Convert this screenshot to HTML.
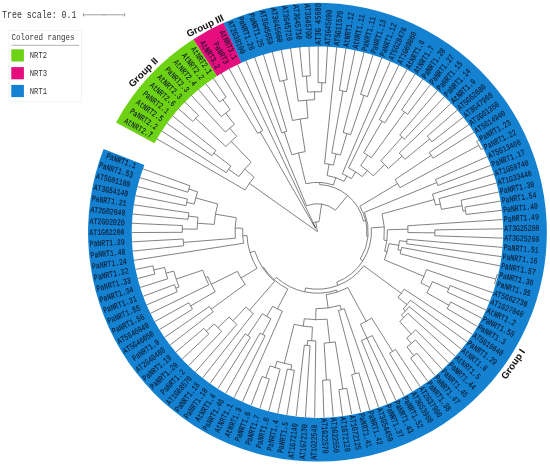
<!DOCTYPE html>
<html><head><meta charset="utf-8"><title>Phylogenetic tree</title>
<style>html,body{margin:0;padding:0;background:#fff;}body{width:550px;height:465px;overflow:hidden;}svg{display:block;}</style>
</head><body>
<svg width="550" height="465" viewBox="0 0 550 465">
<rect width="550" height="465" fill="#fff"/>
<path d="M116.04 122.39A229.4 229.4 0 0 1 193.42 39.22L217.05 75.98A185.7 185.7 0 0 0 154.41 143.31Z" fill="#6dd114"/>
<path d="M193.42 39.22A229.4 229.4 0 0 1 223.67 22.84L241.54 62.73A185.7 185.7 0 0 0 217.05 75.98Z" fill="#e60d7e"/>
<path d="M223.49 22.93A229.4 229.4 0 1 1 103.63 149.09L144.37 164.92A185.7 185.7 0 1 0 241.39 62.79Z" fill="#1481d1"/>
<path d="M317.45 231.70L249.36 183.37M245.16 189.91A83.50 83.50 0 0 1 254.14 177.26M245.16 189.91L156.68 138.76M254.14 177.26L244.66 169.10M238.86 176.57A96.00 96.00 0 0 1 251.17 162.25M238.86 176.57L228.46 169.27M226.18 172.66A108.70 108.70 0 0 1 230.87 165.98M226.18 172.66L161.53 130.83M230.87 165.98L213.90 153.10M211.97 155.72A130.00 130.00 0 0 1 215.90 150.53M211.97 155.72L166.77 123.16M215.90 150.53L172.39 115.76M251.17 162.25L231.15 141.27M225.93 146.55A125.00 125.00 0 0 1 236.67 136.30M225.93 146.55L195.55 118.29M192.75 121.37A166.50 166.50 0 0 1 198.43 115.27M192.75 121.37L178.37 108.65M198.43 115.27L184.70 101.85M236.67 136.30L229.76 128.14M225.31 132.08A135.70 135.70 0 0 1 234.38 124.40M225.31 132.08L191.36 95.37M234.38 124.40L225.62 113.09M221.24 116.62A150.00 150.00 0 0 1 230.14 109.73M221.24 116.62L198.34 89.23M230.14 109.73L222.86 99.57M219.59 101.97A162.50 162.50 0 0 1 226.20 97.24M219.59 101.97L205.61 83.45M226.20 97.24L213.17 78.04M317.45 231.70L315.80 221.94M312.85 222.94A9.90 9.90 0 0 1 318.93 221.91M312.85 222.94L315.59 228.16M315.46 228.23A4.00 4.00 0 0 1 315.72 228.09M315.46 228.23L260.19 131.97M257.71 133.43A115.00 115.00 0 0 1 262.70 130.57M257.71 133.43L220.98 73.02M262.70 130.57L229.04 68.39M315.72 228.09L237.32 64.18M318.93 221.91L321.62 204.01M306.65 205.87A28.00 28.00 0 0 1 335.39 210.20M306.65 205.87L245.80 60.38M335.39 210.20L347.69 195.46M319.61 184.55A47.20 47.20 0 0 1 363.45 221.12M319.61 184.55L319.71 182.45M305.89 183.77A49.30 49.30 0 0 1 333.34 185.03M305.89 183.77L298.46 152.96M291.89 154.84A81.00 81.00 0 0 1 305.17 151.64M291.89 154.84L284.32 132.07M281.83 132.93A105.00 105.00 0 0 1 286.82 131.27M281.83 132.93L254.46 57.01M286.82 131.27L263.28 54.08M305.17 151.64L300.17 119.02M292.46 120.47A114.00 114.00 0 0 1 307.96 118.10M292.46 120.47L283.48 80.47M279.70 81.37A155.00 155.00 0 0 1 287.27 79.67M279.70 81.37L272.23 51.59M287.27 79.67L281.29 49.55M307.96 118.10L306.46 100.16M298.26 101.10A132.00 132.00 0 0 1 314.70 99.73M298.26 101.10L290.45 47.97M314.70 99.73L314.54 91.73M307.54 92.05A140.00 140.00 0 0 1 321.54 91.76M307.54 92.05L306.41 76.09M302.52 76.42A156.00 156.00 0 0 1 310.30 75.86M302.52 76.42L299.67 46.85M310.30 75.86L308.94 46.20M321.54 91.76L321.80 82.76M318.08 82.70A149.00 149.00 0 0 1 325.53 82.92M318.08 82.70L318.23 46.00M325.53 82.92L327.52 46.27M333.34 185.03L335.83 177.74M327.09 175.52A57.00 57.00 0 0 1 344.10 181.32M327.09 175.52L329.04 164.19M324.58 163.57A68.50 68.50 0 0 1 333.44 165.09M324.58 163.57L336.78 47.01M333.44 165.09L336.13 153.91M331.72 152.98A80.00 80.00 0 0 1 340.47 155.08M331.72 152.98L342.96 90.99M339.43 90.40A143.00 143.00 0 0 1 346.47 91.68M339.43 90.40L345.99 48.21M346.47 91.68L355.13 49.86M340.47 155.08L346.95 133.54M343.24 132.50A102.50 102.50 0 0 1 350.61 134.71M343.24 132.50L364.18 51.98M350.61 134.71L364.04 95.44M360.61 94.32A144.00 144.00 0 0 1 367.43 96.65M360.61 94.32L373.11 54.54M367.43 96.65L381.90 57.54M344.10 181.32L346.91 176.01M342.24 173.78A63.00 63.00 0 0 1 351.38 178.62M342.24 173.78L390.54 60.99M351.38 178.62L355.69 171.88M348.62 167.91A71.00 71.00 0 0 1 362.25 176.62M348.62 167.91L398.98 64.86M362.25 176.62L367.30 170.41M360.72 165.60A79.00 79.00 0 0 1 373.35 175.88M360.72 165.60L367.57 155.15M363.67 152.73A91.50 91.50 0 0 1 371.33 157.75M363.67 152.73L382.11 121.23M379.33 119.65A128.00 128.00 0 0 1 384.86 122.89M379.33 119.65L407.23 69.14M384.86 122.89L415.24 73.84M371.33 157.75L404.61 112.08M401.59 109.94A148.00 148.00 0 0 1 407.57 114.30M401.59 109.94L423.02 78.93M407.57 114.30L430.53 84.40M373.35 175.88L384.67 164.57M380.79 160.89A95.00 95.00 0 0 1 388.34 168.46M380.79 160.89L402.12 137.04M399.72 134.95A127.00 127.00 0 0 1 404.46 139.19M399.72 134.95L437.75 90.24M404.46 139.19L444.68 96.43M388.34 168.46L402.14 156.14M399.25 153.02A113.50 113.50 0 0 1 404.92 159.37M399.25 153.02L451.28 102.96M404.92 159.37L429.58 138.98M427.23 136.20A145.50 145.50 0 0 1 431.87 141.81M427.23 136.20L457.56 109.82M431.87 141.81L463.48 116.98M363.45 221.12L365.59 220.63M359.80 206.27A49.40 49.40 0 0 1 366.66 236.07M359.80 206.27L397.61 183.56M395.10 179.61A93.50 93.50 0 0 1 399.91 187.63M395.10 179.61L431.22 155.38M429.28 152.56A137.00 137.00 0 0 1 433.10 158.25M429.28 152.56L469.03 124.43M433.10 158.25L474.21 132.14M399.91 187.63L478.85 145.45M476.64 141.44A183.00 183.00 0 0 1 480.96 149.52M476.64 141.44L478.99 140.11M480.96 149.52L483.37 148.30M366.66 236.07L368.05 236.20M364.42 212.35A50.80 50.80 0 0 1 360.27 259.03M364.42 212.35L436.73 182.57M435.46 179.60A129.00 129.00 0 0 1 437.92 185.57M435.46 179.60L487.33 156.71M437.92 185.57L490.87 165.30M360.27 259.03L362.97 260.75M371.31 227.87A54.00 54.00 0 0 1 336.67 282.16M371.31 227.87L384.28 226.95M382.05 213.91A67.00 67.00 0 0 1 383.91 240.18M382.05 213.91L434.11 199.57M432.47 194.14A121.00 121.00 0 0 1 435.49 205.08M432.47 194.14L493.98 174.06M435.49 205.08L440.36 203.98M439.03 198.63A126.00 126.00 0 0 1 441.46 209.39M439.03 198.63L496.64 182.96M441.46 209.39L462.13 205.67M461.05 200.26A147.00 147.00 0 0 1 463.00 211.11M461.05 200.26L498.85 191.98M463.00 211.11L465.58 210.75M465.01 207.05A149.60 149.60 0 0 1 466.05 214.46M465.01 207.05L500.61 201.10M466.05 214.46L501.91 210.30M383.91 240.18L386.89 240.56M387.42 229.75A70.00 70.00 0 0 1 384.69 251.16M387.42 229.75L407.91 229.17M407.76 225.78A90.50 90.50 0 0 1 407.95 232.57M407.76 225.78L502.75 219.56M407.95 232.57L434.84 232.83M434.84 229.89A117.40 117.40 0 0 1 434.78 235.77M434.84 229.89L503.13 228.84M434.78 235.77L503.04 238.13M384.69 251.16L387.09 251.85M388.95 243.68A72.50 72.50 0 0 1 384.30 259.76M388.95 243.68L398.82 245.33M399.45 240.73A82.50 82.50 0 0 1 397.92 249.89M399.45 240.73L406.91 241.55M407.13 239.31A90.00 90.00 0 0 1 406.63 243.79M407.13 239.31L502.48 247.41M406.63 243.79L501.47 256.64M397.92 249.89L400.94 250.57M401.59 247.42A85.60 85.60 0 0 1 400.18 253.69M401.59 247.42L499.99 265.81M400.18 253.69L495.85 279.12M496.99 274.65A184.60 184.60 0 0 1 494.61 283.57M496.99 274.65L498.05 274.90M494.61 283.57L495.67 283.88M384.30 259.76L423.95 276.40M426.53 269.66A115.50 115.50 0 0 1 420.95 282.97M426.53 269.66L492.84 292.73M420.95 282.97L429.82 287.37M432.46 281.68A125.40 125.40 0 0 1 426.89 292.92M432.46 281.68L448.79 288.77M450.17 285.47A143.20 143.20 0 0 1 447.32 292.04M450.17 285.47L489.56 301.43M447.32 292.04L485.86 309.95M426.89 292.92L448.97 305.27M450.77 301.96A150.70 150.70 0 0 1 447.09 308.54M450.77 301.96L481.74 318.27M447.09 308.54L477.20 326.38M336.67 282.16L337.92 285.43M363.75 265.79A57.50 57.50 0 0 1 305.56 287.96M363.75 265.79L401.20 293.37M404.15 289.13A104.00 104.00 0 0 1 398.03 297.45M404.15 289.13L472.26 334.25M398.03 297.45L406.94 304.72M410.43 300.22A115.50 115.50 0 0 1 403.24 309.03M410.43 300.22L466.94 341.87M403.24 309.03L405.39 310.98M409.13 306.62A118.40 118.40 0 0 1 401.45 315.14M409.13 306.62L461.24 349.21M401.45 315.14L403.86 317.54M407.79 313.39A121.80 121.80 0 0 1 399.74 321.50M407.79 313.39L455.19 356.25M399.74 321.50L411.23 334.03M415.61 329.83A138.80 138.80 0 0 1 406.66 338.04M415.61 329.83L448.78 362.99M406.66 338.04L411.28 343.55M415.41 339.95A146.00 146.00 0 0 1 407.02 347.00M415.41 339.95L442.05 369.39M407.02 347.00L413.77 355.68M416.84 353.23A157.00 157.00 0 0 1 410.64 358.05M416.84 353.23L435.01 375.45M410.64 358.05L427.67 381.15M305.56 287.96L304.74 291.87M336.70 290.11A61.50 61.50 0 0 1 276.22 277.33M336.70 290.11L337.36 292.10M347.82 287.58A63.60 63.60 0 0 1 326.26 294.69M347.82 287.58L366.16 321.32M371.67 318.10A102.00 102.00 0 0 1 360.46 324.19M371.67 318.10L392.56 351.39M395.53 349.47A141.30 141.30 0 0 1 389.54 353.23M395.53 349.47L420.06 386.48M389.54 353.23L412.19 391.42M360.46 324.19L366.96 338.15M372.22 335.54A117.40 117.40 0 0 1 361.57 340.49M372.22 335.54L404.08 395.95M366.96 338.15L395.76 400.08M361.57 340.49L387.24 403.79M326.26 294.69L328.12 307.96M340.04 305.31A77.00 77.00 0 0 1 315.93 308.69M340.04 305.31L341.36 309.61M344.26 308.66A81.50 81.50 0 0 1 338.42 310.46M344.26 308.66L378.54 407.06M338.42 310.46L355.27 373.75M358.81 372.76A147.00 147.00 0 0 1 351.70 374.65M358.81 372.76L369.70 409.90M351.70 374.65L360.72 412.29M315.93 308.69L315.71 319.68M327.12 319.17A88.00 88.00 0 0 1 304.34 318.72M327.12 319.17L329.71 342.62M335.24 341.87A111.60 111.60 0 0 1 324.14 343.10M335.24 341.87L342.86 389.06M346.79 388.38A159.40 159.40 0 0 1 338.92 389.65M346.79 388.38L351.63 414.23M338.92 389.65L342.46 415.71M324.14 343.10L326.36 380.03M330.07 379.76A148.60 148.60 0 0 1 322.65 380.21M330.07 379.76L333.22 416.73M322.65 380.21L323.95 417.29M304.34 318.72L303.22 326.13M312.43 327.07A95.50 95.50 0 0 1 294.15 324.31M312.43 327.07L311.71 340.75M315.81 340.89A109.20 109.20 0 0 1 307.63 340.46M315.81 340.89L314.66 417.38M307.63 340.46L307.18 345.44M310.02 345.66A114.20 114.20 0 0 1 304.33 345.14M310.02 345.66L305.37 417.01M304.33 345.14L296.12 416.17M294.15 324.31L284.34 363.30M291.80 364.95A135.70 135.70 0 0 1 276.99 361.23M291.80 364.95L290.87 369.77M294.34 370.39A140.60 140.60 0 0 1 287.43 369.06M294.34 370.39L286.92 414.87M287.43 369.06L277.80 413.12M276.99 361.23L275.02 367.53M280.15 369.02A142.30 142.30 0 0 1 269.96 365.84M280.15 369.02L268.77 410.91M269.96 365.84L265.72 377.81M269.39 379.06A155.00 155.00 0 0 1 262.08 376.47M269.39 379.06L259.87 408.25M262.08 376.47L251.11 405.15M276.22 277.33L274.14 279.63M287.74 289.06A64.60 64.60 0 0 1 263.38 267.05M287.74 289.06L277.44 308.95M282.35 311.30A87.00 87.00 0 0 1 272.69 306.30M282.35 311.30L242.52 401.61M272.69 306.30L266.67 316.33M270.96 318.77A98.70 98.70 0 0 1 262.50 313.69M270.96 318.77L262.58 334.47M265.17 335.81A116.50 116.50 0 0 1 260.03 333.06M265.17 335.81L234.11 397.65M260.03 333.06L225.92 393.27M262.50 313.69L247.86 335.53M250.47 337.24A125.00 125.00 0 0 1 245.28 333.76M250.47 337.24L217.95 388.49M245.28 333.76L210.23 383.32M263.38 267.05L262.54 267.60M274.57 281.34A65.60 65.60 0 0 1 254.77 251.07M274.57 281.34L249.47 310.40M253.23 313.50A104.00 104.00 0 0 1 245.85 307.13M253.23 313.50L202.78 377.77M245.85 307.13L232.91 320.76M236.89 324.38A122.80 122.80 0 0 1 229.09 316.98M236.89 324.38L195.62 371.85M229.09 316.98L217.94 327.74M221.61 331.41A138.30 138.30 0 0 1 214.40 323.94M221.61 331.41L188.76 365.58M214.40 323.94L206.28 331.21M208.81 333.96A149.20 149.20 0 0 1 203.83 328.40M208.81 333.96L182.23 358.98M203.83 328.40L176.03 352.05M254.77 251.07L250.00 252.54M257.07 268.29A70.60 70.60 0 0 1 246.96 235.55M257.07 268.29L240.99 278.03M245.21 284.37A89.40 89.40 0 0 1 237.33 271.36M245.21 284.37L211.20 309.18M213.17 311.81A131.50 131.50 0 0 1 209.29 306.50M213.17 311.81L170.19 344.83M209.29 306.50L164.71 337.32M237.33 271.36L211.25 284.27M215.21 291.60A118.50 118.50 0 0 1 207.81 276.67M215.21 291.60L190.62 306.01M192.51 309.16A147.00 147.00 0 0 1 188.80 302.81M192.51 309.16L159.62 329.55M188.80 302.81L154.93 321.53M207.81 276.67L205.50 277.62M208.76 284.87A121.00 121.00 0 0 1 202.73 270.17M208.76 284.87L150.64 313.29M202.73 270.17L176.18 279.07M179.07 286.95A149.00 149.00 0 0 1 173.74 271.05M179.07 286.95L175.82 288.24M177.28 291.77A152.50 152.50 0 0 1 174.45 284.68M177.28 291.77L146.76 304.85M174.45 284.68L143.32 296.22M173.74 271.05L166.02 273.16M167.69 278.82A157.00 157.00 0 0 1 164.57 267.45M167.69 278.82L140.31 287.43M164.57 267.45L153.86 269.96M154.87 274.04A168.00 168.00 0 0 1 152.96 265.85M154.87 274.04L137.74 278.50M152.96 265.85L135.63 269.45M246.96 235.55L242.76 235.78M243.54 243.22A74.80 74.80 0 0 1 242.73 228.30M243.54 243.22L133.97 260.31M242.73 228.30L235.14 227.95M235.31 238.25A82.40 82.40 0 0 1 236.25 217.71M235.31 238.25L183.38 242.40M183.69 245.75A134.50 134.50 0 0 1 183.15 239.04M183.69 245.75L132.77 251.10M183.15 239.04L132.03 241.83M236.25 217.71L215.45 214.13M214.21 224.41A103.50 103.50 0 0 1 217.72 204.03M214.21 224.41L197.45 223.23M197.18 229.24A120.30 120.30 0 0 1 198.02 217.24M197.18 229.24L182.28 228.93M182.25 232.32A135.20 135.20 0 0 1 182.39 225.55M182.25 232.32L131.75 232.55M182.39 225.55L131.94 223.26M198.02 217.24L188.39 216.07M188.04 219.30A130.00 130.00 0 0 1 188.82 212.85M188.04 219.30L132.60 213.99M188.82 212.85L133.71 204.77M217.72 204.03L195.75 197.93M194.21 204.06A126.30 126.30 0 0 1 197.59 191.89M194.21 204.06L186.70 202.38M186.00 205.66A134.00 134.00 0 0 1 187.47 199.12M186.00 205.66L135.29 195.61M187.47 199.12L137.32 186.54M197.59 191.89L188.86 188.99M187.83 192.22A135.50 135.50 0 0 1 189.97 185.78M187.83 192.22L139.81 177.59M189.97 185.78L142.74 168.77" fill="none" stroke="#585858" stroke-width="0.75"/>
<g font-family="'Liberation Mono', monospace" font-size="8.5" fill="#0b1626" stroke="#0b1626" stroke-width="0.08">
<text transform="translate(124.82 120.34) rotate(30.03)" y="2.4" textLength="31.2" lengthAdjust="spacingAndGlyphs">AtNRT2.7</text>
<text transform="translate(130.64 110.84) rotate(32.90)" y="2.4" textLength="31.2" lengthAdjust="spacingAndGlyphs">PaNRT2.2</text>
<text transform="translate(136.91 101.65) rotate(35.77)" y="2.4" textLength="31.2" lengthAdjust="spacingAndGlyphs">AtNRT2.5</text>
<text transform="translate(143.65 92.78) rotate(38.63)" y="2.4" textLength="31.2" lengthAdjust="spacingAndGlyphs">PaNRT2.1</text>
<text transform="translate(150.81 84.26) rotate(41.50)" y="2.4" textLength="31.2" lengthAdjust="spacingAndGlyphs">AtNRT2.6</text>
<text transform="translate(158.39 76.11) rotate(44.37)" y="2.4" textLength="31.2" lengthAdjust="spacingAndGlyphs">AtNRT2.3</text>
<text transform="translate(166.38 68.35) rotate(47.24)" y="2.4" textLength="31.2" lengthAdjust="spacingAndGlyphs">PaNRT2.3</text>
<text transform="translate(174.73 61.00) rotate(50.10)" y="2.4" textLength="31.2" lengthAdjust="spacingAndGlyphs">AtNRT2.4</text>
<text transform="translate(183.45 54.07) rotate(52.97)" y="2.4" textLength="31.2" lengthAdjust="spacingAndGlyphs">AtNRT2.2</text>
<text transform="translate(192.50 47.59) rotate(55.84)" y="2.4" textLength="31.2" lengthAdjust="spacingAndGlyphs">AtNRT2.1</text>
<text transform="translate(201.87 41.58) rotate(58.70)" y="2.4" textLength="31.2" lengthAdjust="spacingAndGlyphs">AtNRT3.2</text>
<text transform="translate(215.24 42.89) rotate(61.57)" y="2.4" textLength="23.4" lengthAdjust="spacingAndGlyphs">PaNRT3</text>
<text transform="translate(221.44 30.98) rotate(64.44)" y="2.4" textLength="31.2" lengthAdjust="spacingAndGlyphs">AtNRT3.1</text>
<text transform="translate(229.44 21.26) rotate(67.30)" y="2.4" textLength="35.1" lengthAdjust="spacingAndGlyphs">AT2G38100</text>
<text transform="translate(240.08 17.12) rotate(70.17)" y="2.4" textLength="35.1" lengthAdjust="spacingAndGlyphs">PaNRT1.26</text>
<text transform="translate(250.91 13.52) rotate(73.04)" y="2.4" textLength="35.1" lengthAdjust="spacingAndGlyphs">PaNRT1.25</text>
<text transform="translate(261.90 10.47) rotate(75.91)" y="2.4" textLength="35.1" lengthAdjust="spacingAndGlyphs">AT3G45650</text>
<text transform="translate(273.04 7.97) rotate(78.77)" y="2.4" textLength="35.1" lengthAdjust="spacingAndGlyphs">AT3G45660</text>
<text transform="translate(284.28 6.02) rotate(81.64)" y="2.4" textLength="35.1" lengthAdjust="spacingAndGlyphs">AT3G45720</text>
<text transform="translate(295.61 4.65) rotate(84.51)" y="2.4" textLength="35.1" lengthAdjust="spacingAndGlyphs">AT3G45710</text>
<text transform="translate(307.00 3.84) rotate(87.37)" y="2.4" textLength="35.1" lengthAdjust="spacingAndGlyphs">AT3G45700</text>
<text transform="translate(318.23 44.80) rotate(-89.76)" y="2.4" textLength="41.8" lengthAdjust="spacingAndGlyphs">AT3G 45680</text>
<text transform="translate(327.58 45.07) rotate(-86.89)" y="2.4" textLength="35.1" lengthAdjust="spacingAndGlyphs">AT3G45690</text>
<text transform="translate(336.90 45.82) rotate(-84.03)" y="2.4" textLength="35.1" lengthAdjust="spacingAndGlyphs">AT5G11570</text>
<text transform="translate(346.18 47.02) rotate(-81.16)" y="2.4" textLength="35.1" lengthAdjust="spacingAndGlyphs">AtNRT1.12</text>
<text transform="translate(355.38 48.69) rotate(-78.29)" y="2.4" textLength="35.1" lengthAdjust="spacingAndGlyphs">AtNRT1.11</text>
<text transform="translate(364.48 50.82) rotate(-75.42)" y="2.4" textLength="35.1" lengthAdjust="spacingAndGlyphs">PaNRT1.11</text>
<text transform="translate(373.47 53.39) rotate(-72.56)" y="2.4" textLength="35.1" lengthAdjust="spacingAndGlyphs">PaNRT1.13</text>
<text transform="translate(382.32 56.42) rotate(-69.69)" y="2.4" textLength="35.1" lengthAdjust="spacingAndGlyphs">PaNRT1.12</text>
<text transform="translate(391.01 59.88) rotate(-66.82)" y="2.4" textLength="35.1" lengthAdjust="spacingAndGlyphs">AT5G28470</text>
<text transform="translate(399.51 63.78) rotate(-63.96)" y="2.4" textLength="35.1" lengthAdjust="spacingAndGlyphs">AT1G69860</text>
<text transform="translate(407.81 68.09) rotate(-61.09)" y="2.4" textLength="31.2" lengthAdjust="spacingAndGlyphs">AtNRT1.6</text>
<text transform="translate(415.88 72.82) rotate(-58.22)" y="2.4" textLength="31.2" lengthAdjust="spacingAndGlyphs">AtNRT1.7</text>
<text transform="translate(423.70 77.94) rotate(-55.36)" y="2.4" textLength="35.1" lengthAdjust="spacingAndGlyphs">PaNRT1.28</text>
<text transform="translate(431.26 83.45) rotate(-52.49)" y="2.4" textLength="35.1" lengthAdjust="spacingAndGlyphs">PaNRT1.27</text>
<text transform="translate(438.53 89.32) rotate(-49.62)" y="2.4" textLength="35.1" lengthAdjust="spacingAndGlyphs">PaNRT1.15</text>
<text transform="translate(445.50 95.56) rotate(-46.75)" y="2.4" textLength="35.1" lengthAdjust="spacingAndGlyphs">PaNRT1.14</text>
<text transform="translate(452.15 102.13) rotate(-43.89)" y="2.4" textLength="31.2" lengthAdjust="spacingAndGlyphs">AtNRT1.9</text>
<text transform="translate(458.46 109.03) rotate(-41.02)" y="2.4" textLength="35.1" lengthAdjust="spacingAndGlyphs">AT5G62680</text>
<text transform="translate(464.42 116.24) rotate(-38.15)" y="2.4" textLength="35.1" lengthAdjust="spacingAndGlyphs">AT3G47960</text>
<text transform="translate(470.01 123.73) rotate(-35.29)" y="2.4" textLength="35.1" lengthAdjust="spacingAndGlyphs">AT3G01350</text>
<text transform="translate(475.22 131.50) rotate(-32.42)" y="2.4" textLength="35.1" lengthAdjust="spacingAndGlyphs">AT5G14940</text>
<text transform="translate(480.04 139.52) rotate(-29.55)" y="2.4" textLength="35.1" lengthAdjust="spacingAndGlyphs">PaNRT1.23</text>
<text transform="translate(484.44 147.76) rotate(-26.69)" y="2.4" textLength="35.1" lengthAdjust="spacingAndGlyphs">PaNRT1.22</text>
<text transform="translate(488.43 156.22) rotate(-23.82)" y="2.4" textLength="35.1" lengthAdjust="spacingAndGlyphs">AT5G13400</text>
<text transform="translate(491.99 164.87) rotate(-20.95)" y="2.4" textLength="35.1" lengthAdjust="spacingAndGlyphs">PaNRT1.17</text>
<text transform="translate(495.12 173.68) rotate(-18.08)" y="2.4" textLength="35.1" lengthAdjust="spacingAndGlyphs">AT1G59740</text>
<text transform="translate(497.80 182.64) rotate(-15.22)" y="2.4" textLength="35.1" lengthAdjust="spacingAndGlyphs">AT1G33440</text>
<text transform="translate(500.02 191.72) rotate(-12.35)" y="2.4" textLength="35.1" lengthAdjust="spacingAndGlyphs">PaNRT1.30</text>
<text transform="translate(501.80 200.91) rotate(-9.48)" y="2.4" textLength="35.1" lengthAdjust="spacingAndGlyphs">PaNRT1.54</text>
<text transform="translate(503.11 210.16) rotate(-6.62)" y="2.4" textLength="35.1" lengthAdjust="spacingAndGlyphs">PaNRT1.40</text>
<text transform="translate(503.95 219.48) rotate(-3.75)" y="2.4" textLength="35.1" lengthAdjust="spacingAndGlyphs">PaNRT1.49</text>
<text transform="translate(504.33 228.82) rotate(-0.88)" y="2.4" textLength="35.1" lengthAdjust="spacingAndGlyphs">AT3G25280</text>
<text transform="translate(504.24 238.17) rotate(1.98)" y="2.4" textLength="35.1" lengthAdjust="spacingAndGlyphs">AT3G25260</text>
<text transform="translate(503.68 247.51) rotate(4.85)" y="2.4" textLength="35.1" lengthAdjust="spacingAndGlyphs">PaNRT1.51</text>
<text transform="translate(502.66 256.80) rotate(7.72)" y="2.4" textLength="35.1" lengthAdjust="spacingAndGlyphs">PaNRT1.16</text>
<text transform="translate(501.17 266.03) rotate(10.59)" y="2.4" textLength="35.1" lengthAdjust="spacingAndGlyphs">PaNRT1.57</text>
<text transform="translate(499.22 275.18) rotate(13.45)" y="2.4" textLength="35.1" lengthAdjust="spacingAndGlyphs">PaNRT1.36</text>
<text transform="translate(496.82 284.22) rotate(16.32)" y="2.4" textLength="35.1" lengthAdjust="spacingAndGlyphs">PaNRT1.35</text>
<text transform="translate(493.97 293.12) rotate(19.19)" y="2.4" textLength="35.1" lengthAdjust="spacingAndGlyphs">AT5G62730</text>
<text transform="translate(490.68 301.88) rotate(22.05)" y="2.4" textLength="35.1" lengthAdjust="spacingAndGlyphs">AT1G27040</text>
<text transform="translate(486.95 310.45) rotate(24.92)" y="2.4" textLength="31.2" lengthAdjust="spacingAndGlyphs">AtNRT1.2</text>
<text transform="translate(482.80 318.83) rotate(27.79)" y="2.4" textLength="35.1" lengthAdjust="spacingAndGlyphs">PaNRT1.50</text>
<text transform="translate(478.23 326.99) rotate(30.65)" y="2.4" textLength="31.2" lengthAdjust="spacingAndGlyphs">PaNRT1.3</text>
<text transform="translate(473.26 334.92) rotate(33.52)" y="2.4" textLength="35.1" lengthAdjust="spacingAndGlyphs">AT5G19640</text>
<text transform="translate(467.91 342.58) rotate(36.39)" y="2.4" textLength="35.1" lengthAdjust="spacingAndGlyphs">PaNRT1.29</text>
<text transform="translate(462.17 349.97) rotate(39.26)" y="2.4" textLength="31.2" lengthAdjust="spacingAndGlyphs">AtNRT1.8</text>
<text transform="translate(456.08 357.06) rotate(42.12)" y="2.4" textLength="31.2" lengthAdjust="spacingAndGlyphs">AtNRT1.5</text>
<text transform="translate(449.63 363.83) rotate(44.99)" y="2.4" textLength="35.1" lengthAdjust="spacingAndGlyphs">PaNRT1.44</text>
<text transform="translate(442.86 370.28) rotate(47.86)" y="2.4" textLength="35.1" lengthAdjust="spacingAndGlyphs">PaNRT1.45</text>
<text transform="translate(435.77 376.38) rotate(50.72)" y="2.4" textLength="35.1" lengthAdjust="spacingAndGlyphs">PaNRT1.47</text>
<text transform="translate(428.38 382.12) rotate(53.59)" y="2.4" textLength="35.1" lengthAdjust="spacingAndGlyphs">PaNRT1.38</text>
<text transform="translate(420.72 387.48) rotate(56.46)" y="2.4" textLength="35.1" lengthAdjust="spacingAndGlyphs">AT2G37900</text>
<text transform="translate(412.80 392.45) rotate(59.32)" y="2.4" textLength="35.1" lengthAdjust="spacingAndGlyphs">AT3G53960</text>
<text transform="translate(404.64 397.02) rotate(62.19)" y="2.4" textLength="35.1" lengthAdjust="spacingAndGlyphs">PaNRT1.52</text>
<text transform="translate(396.26 401.17) rotate(65.06)" y="2.4" textLength="35.1" lengthAdjust="spacingAndGlyphs">PaNRT1.43</text>
<text transform="translate(387.69 404.90) rotate(67.93)" y="2.4" textLength="35.1" lengthAdjust="spacingAndGlyphs">PaNRT1.37</text>
<text transform="translate(378.94 408.20) rotate(70.79)" y="2.4" textLength="35.1" lengthAdjust="spacingAndGlyphs">AT3G54450</text>
<text transform="translate(370.03 411.05) rotate(73.66)" y="2.4" textLength="35.1" lengthAdjust="spacingAndGlyphs">PaNRT1.42</text>
<text transform="translate(361.00 413.46) rotate(76.53)" y="2.4" textLength="35.1" lengthAdjust="spacingAndGlyphs">PaNRT1.41</text>
<text transform="translate(351.85 415.41) rotate(79.39)" y="2.4" textLength="35.1" lengthAdjust="spacingAndGlyphs">AT1G72125</text>
<text transform="translate(342.62 416.90) rotate(82.26)" y="2.4" textLength="35.1" lengthAdjust="spacingAndGlyphs">AT1G72120</text>
<text transform="translate(333.33 417.92) rotate(85.13)" y="2.4" textLength="35.1" lengthAdjust="spacingAndGlyphs">AT1G22550</text>
<text transform="translate(323.99 418.49) rotate(87.99)" y="2.4" textLength="35.1" lengthAdjust="spacingAndGlyphs">AT1G22570</text>
<text transform="translate(314.02 459.77) rotate(270.86)" y="2.4" textLength="35.1" lengthAdjust="spacingAndGlyphs">AT1G22540</text>
<text transform="translate(302.62 459.32) rotate(273.73)" y="2.4" textLength="35.1" lengthAdjust="spacingAndGlyphs">AT1G72130</text>
<text transform="translate(291.25 458.29) rotate(276.60)" y="2.4" textLength="35.1" lengthAdjust="spacingAndGlyphs">AT1G72140</text>
<text transform="translate(280.59 452.85) rotate(279.46)" y="2.4" textLength="31.2" lengthAdjust="spacingAndGlyphs">PaNRT1.5</text>
<text transform="translate(269.58 450.73) rotate(282.33)" y="2.4" textLength="31.2" lengthAdjust="spacingAndGlyphs">PaNRT1.4</text>
<text transform="translate(258.68 448.06) rotate(285.20)" y="2.4" textLength="31.2" lengthAdjust="spacingAndGlyphs">PaNRT1.8</text>
<text transform="translate(247.93 444.85) rotate(288.06)" y="2.4" textLength="31.2" lengthAdjust="spacingAndGlyphs">PaNRT1.7</text>
<text transform="translate(237.36 441.11) rotate(290.93)" y="2.4" textLength="31.2" lengthAdjust="spacingAndGlyphs">PaNRT1.6</text>
<text transform="translate(226.98 436.84) rotate(293.80)" y="2.4" textLength="31.2" lengthAdjust="spacingAndGlyphs">AtNRT1.3</text>
<text transform="translate(216.84 432.06) rotate(296.66)" y="2.4" textLength="31.2" lengthAdjust="spacingAndGlyphs">AtNRT1.1</text>
<text transform="translate(205.02 430.17) rotate(299.53)" y="2.4" textLength="35.1" lengthAdjust="spacingAndGlyphs">PaNRT1.46</text>
<text transform="translate(197.32 421.00) rotate(302.40)" y="2.4" textLength="31.2" lengthAdjust="spacingAndGlyphs">AtNRT1.4</text>
<text transform="translate(185.75 417.94) rotate(305.27)" y="2.4" textLength="35.1" lengthAdjust="spacingAndGlyphs">PaNRT1.10</text>
<text transform="translate(176.60 411.12) rotate(308.13)" y="2.4" textLength="35.1" lengthAdjust="spacingAndGlyphs">PaNRT1.18</text>
<text transform="translate(167.80 403.85) rotate(311.00)" y="2.4" textLength="35.1" lengthAdjust="spacingAndGlyphs">AT1G68570</text>
<text transform="translate(162.08 393.34) rotate(313.87)" y="2.4" textLength="31.2" lengthAdjust="spacingAndGlyphs">PaNRT1.2</text>
<text transform="translate(151.35 388.04) rotate(316.73)" y="2.4" textLength="35.1" lengthAdjust="spacingAndGlyphs">PaNRT1.20</text>
<text transform="translate(143.74 379.53) rotate(319.60)" y="2.4" textLength="35.1" lengthAdjust="spacingAndGlyphs">PaNRT1.19</text>
<text transform="translate(136.56 370.66) rotate(322.47)" y="2.4" textLength="35.1" lengthAdjust="spacingAndGlyphs">AT2G40460</text>
<text transform="translate(133.05 359.22) rotate(325.33)" y="2.4" textLength="31.2" lengthAdjust="spacingAndGlyphs">PaNRT1.9</text>
<text transform="translate(123.59 351.89) rotate(328.20)" y="2.4" textLength="35.1" lengthAdjust="spacingAndGlyphs">AT5G46050</text>
<text transform="translate(117.82 342.05) rotate(331.07)" y="2.4" textLength="35.1" lengthAdjust="spacingAndGlyphs">AT5G46040</text>
<text transform="translate(112.55 331.92) rotate(333.94)" y="2.4" textLength="35.1" lengthAdjust="spacingAndGlyphs">PaNRT1.56</text>
<text transform="translate(107.79 321.55) rotate(336.80)" y="2.4" textLength="35.1" lengthAdjust="spacingAndGlyphs">PaNRT1.55</text>
<text transform="translate(103.56 310.95) rotate(339.67)" y="2.4" textLength="35.1" lengthAdjust="spacingAndGlyphs">PaNRT1.31</text>
<text transform="translate(99.86 300.15) rotate(342.54)" y="2.4" textLength="35.1" lengthAdjust="spacingAndGlyphs">PaNRT1.34</text>
<text transform="translate(96.71 289.18) rotate(345.40)" y="2.4" textLength="35.1" lengthAdjust="spacingAndGlyphs">PaNRT1.33</text>
<text transform="translate(94.11 278.07) rotate(348.27)" y="2.4" textLength="35.1" lengthAdjust="spacingAndGlyphs">PaNRT1.32</text>
<text transform="translate(92.07 266.84) rotate(351.14)" y="2.4" textLength="35.1" lengthAdjust="spacingAndGlyphs">PaNRT1.24</text>
<text transform="translate(90.60 255.53) rotate(354.00)" y="2.4" textLength="35.1" lengthAdjust="spacingAndGlyphs">PaNRT1.48</text>
<text transform="translate(89.69 244.15) rotate(356.87)" y="2.4" textLength="35.1" lengthAdjust="spacingAndGlyphs">PaNRT1.39</text>
<text transform="translate(89.35 232.74) rotate(359.74)" y="2.4" textLength="35.1" lengthAdjust="spacingAndGlyphs">AT1G62200</text>
<text transform="translate(89.59 221.33) rotate(362.61)" y="2.4" textLength="35.1" lengthAdjust="spacingAndGlyphs">AT2G02020</text>
<text transform="translate(90.39 209.95) rotate(365.47)" y="2.4" textLength="35.1" lengthAdjust="spacingAndGlyphs">AT2G02040</text>
<text transform="translate(91.76 198.62) rotate(368.34)" y="2.4" textLength="35.1" lengthAdjust="spacingAndGlyphs">PaNRT1.21</text>
<text transform="translate(93.70 187.37) rotate(371.21)" y="2.4" textLength="35.1" lengthAdjust="spacingAndGlyphs">AT3G54140</text>
<text transform="translate(96.20 176.23) rotate(374.07)" y="2.4" textLength="35.1" lengthAdjust="spacingAndGlyphs">AT5G01180</text>
<text transform="translate(99.25 165.24) rotate(376.94)" y="2.4" textLength="35.1" lengthAdjust="spacingAndGlyphs">PaNRT1.53</text>
<text transform="translate(106.51 155.73) rotate(379.81)" y="2.4" textLength="31.2" lengthAdjust="spacingAndGlyphs">PaNRT1.1</text>
</g>
<text transform="translate(143.1 72.2) rotate(-45)" y="3.49" text-anchor="middle" font-family="'Liberation Sans', sans-serif" font-weight="bold" font-size="9.7" fill="#111">Group II</text>
<text transform="translate(205 25.6) rotate(-25.5)" y="3.49" text-anchor="middle" font-family="'Liberation Sans', sans-serif" font-weight="bold" font-size="9.7" fill="#111">Group III</text>
<text transform="translate(512.9 363.8) rotate(-55)" y="3.49" text-anchor="middle" font-family="'Liberation Sans', sans-serif" font-weight="bold" font-size="9.7" fill="#111">Group I</text>
<g font-family="'Liberation Mono', monospace" fill="#333">
<text x="2" y="17.6" font-size="10.4" textLength="74.5" lengthAdjust="spacingAndGlyphs">Tree scale: 0.1</text>
<path d="M83.5 13.2V16.4M124.7 13.2V16.4M83.5 14.8H124.7M104 14.2V15.4" stroke="#777" stroke-width="0.7" fill="none"/>
<rect x="9" y="30.5" width="72.5" height="71.5" fill="#fff" stroke="#f1f1f1" stroke-width="0.8"/>
<text x="11.5" y="40.3" font-size="9" textLength="63" lengthAdjust="spacingAndGlyphs">Colored ranges</text>
<path d="M11.5 45.3H79" stroke="#aaa" stroke-width="0.9"/>
<rect x="11.3" y="49.3" width="12.6" height="12.2" fill="#6dd114"/>
<text x="29.8" y="58.3" font-size="8.6" textLength="17.3" lengthAdjust="spacingAndGlyphs">NRT2</text>
<rect x="11.3" y="67.1" width="12.6" height="12.2" fill="#e60d7e"/>
<text x="29.8" y="76.1" font-size="8.6" textLength="17.3" lengthAdjust="spacingAndGlyphs">NRT3</text>
<rect x="11.3" y="84.9" width="12.6" height="12.2" fill="#1481d1"/>
<text x="29.8" y="93.9" font-size="8.6" textLength="17.3" lengthAdjust="spacingAndGlyphs">NRT1</text>
</g>
</svg>
</body></html>
